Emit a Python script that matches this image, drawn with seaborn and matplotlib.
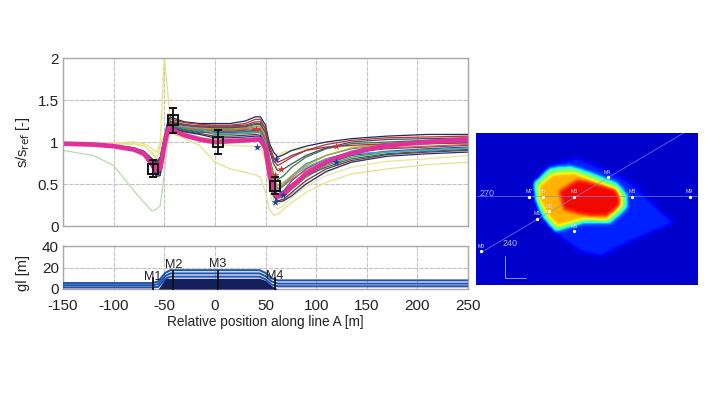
import numpy as np, pandas as pd
import matplotlib
matplotlib.use("Agg")
import matplotlib.pyplot as plt
from matplotlib.path import Path
import seaborn as sns

sns.set_style("white")
plt.rcParams['font.family'] = ['Liberation Sans', 'DejaVu Sans']
plt.rcParams['axes.unicode_minus'] = False

X = [-150,-120,-100,-80,-70,-62,-58,-54,-50,-47,-44,-40,-30,-15,0,15,30,40,45,50,54,58,62,68,76,90,110,135,170,210,250]

green_pale = [.90,.84,.72,.42,.28,.18,.20,.24,.62,.95,1.12,1.13,1.10,1.06,1.02,1.01,1.01,1.02,1.02,.90,.55,.32,.26,.30,.38,.50,.64,.76,.85,.90,.93]
yellow_spike = [.98,.98,.98,.98,.96,.86,.80,.95,2.0,1.65,1.25,1.12,1.08,1.05,1.04,1.03,1.03,1.02,1.0,.88,.55,.42,.85,.88,.90,.92,.93,.95,.96,.98,1.0]
yellow_low = [.98,.98,.99,1.0,.98,.92,.88,.98,1.08,1.10,1.10,1.09,1.04,.96,.76,.68,.64,.61,.58,.40,.19,.13,.14,.20,.28,.40,.52,.62,.68,.73,.76]
yellow_mid = [.98,.97,.97,.97,.95,.88,.82,.88,1.05,1.12,1.15,1.14,1.10,1.02,.97,.96,.95,.95,.94,.78,.42,.24,.20,.25,.34,.47,.60,.70,.77,.80,.84]
s01 = [.98,.97,.96,.93,.89,.80,.76,.82,1.05,1.22,1.30,1.28,1.24,1.22,1.22,1.22,1.25,1.30,1.30,1.20,.98,.88,.82,.85,.90,.95,1.00,1.04,1.07,1.09,1.09]
s02 = [.98,.97,.95,.92,.87,.77,.72,.78,1.02,1.20,1.28,1.26,1.23,1.21,1.20,1.20,1.22,1.27,1.27,1.15,.92,.78,.72,.76,.82,.90,.97,1.02,1.05,1.06,1.07]
s03 = [.98,.97,.95,.92,.86,.75,.70,.74,.98,1.18,1.25,1.24,1.21,1.19,1.18,1.18,1.19,1.22,1.22,1.10,.82,.62,.55,.60,.70,.82,.92,.98,1.00,1.02,1.03]
s04 = [.98,.97,.95,.91,.85,.73,.66,.70,.96,1.16,1.23,1.22,1.19,1.16,1.15,1.15,1.16,1.18,1.18,1.05,.75,.50,.42,.48,.60,.74,.84,.92,.96,.98,.99]
s05 = [.98,.97,.95,.91,.85,.72,.63,.66,.94,1.14,1.21,1.20,1.17,1.14,1.13,1.13,1.14,1.15,1.15,1.02,.72,.46,.36,.42,.54,.68,.80,.88,.92,.94,.96]
s06 = [.98,.97,.95,.91,.84,.70,.60,.62,.92,1.12,1.19,1.18,1.15,1.12,1.11,1.11,1.12,1.13,1.12,1.00,.68,.42,.34,.38,.48,.62,.74,.84,.89,.92,.94]
s07 = [.98,.97,.95,.92,.86,.76,.70,.76,1.00,1.16,1.22,1.21,1.19,1.17,1.16,1.16,1.17,1.19,1.19,1.06,.80,.58,.48,.52,.60,.72,.84,.93,.98,1.01,1.02]
s08 = [.98,.97,.95,.91,.85,.74,.68,.72,.96,1.14,1.20,1.19,1.16,1.13,1.09,1.09,1.10,1.11,1.11,.98,.70,.44,.33,.36,.44,.58,.72,.82,.88,.91,.92]
s09 = [.98,.97,.95,.91,.84,.71,.62,.64,.92,1.11,1.17,1.16,1.13,1.10,1.07,1.07,1.08,1.09,1.08,.96,.66,.38,.30,.32,.40,.54,.68,.78,.85,.88,.90]
s10 = [.98,.97,.96,.93,.88,.79,.75,.80,1.02,1.18,1.24,1.23,1.20,1.18,1.17,1.17,1.18,1.21,1.21,1.12,.90,.74,.66,.68,.74,.84,.93,1.00,1.03,1.04,1.05]
s11 = [.98,.97,.95,.92,.86,.74,.67,.71,.97,1.15,1.22,1.20,1.17,1.15,1.14,1.14,1.15,1.16,1.16,1.04,.78,.54,.45,.48,.56,.66,.78,.87,.93,.95,.97]
s12 = [.98,.97,.95,.91,.85,.72,.64,.66,.93,1.12,1.18,1.17,1.14,1.11,1.12,1.12,1.12,1.14,1.13,1.00,.70,.44,.38,.42,.50,.60,.70,.80,.86,.89,.91]
s13 = [.98,.97,.95,.91,.84,.70,.59,.60,.90,1.10,1.16,1.15,1.12,1.09,1.05,1.05,1.06,1.07,1.07,.94,.64,.36,.29,.30,.36,.50,.65,.76,.83,.86,.88]
s14 = [.98,.97,.96,.92,.87,.78,.73,.79,1.00,1.17,1.23,1.22,1.20,1.19,1.19,1.19,1.20,1.24,1.24,1.16,.95,.82,.76,.79,.84,.90,.94,.96,.98,.98,.99]
s15 = [.98,.97,.95,.92,.86,.75,.69,.73,.97,1.15,1.21,1.20,1.18,1.16,1.10,1.10,1.11,1.12,1.12,1.00,.74,.52,.44,.50,.58,.70,.80,.86,.88,.90,.93]
pink = [.98,.97,.95,.91,.86,.74,.66,.68,.95,1.12,1.16,1.13,1.08,1.03,1.00,1.01,1.02,1.03,1.03,.92,.62,.40,.35,.38,.47,.62,.76,.87,.96,1.00,1.03]

series = {"gp": green_pale, "ys": yellow_spike, "yl": yellow_low, "ym": yellow_mid,
          "s01": s01, "s02": s02, "s03": s03, "s04": s04, "s05": s05, "s06": s06, "s07": s07,
          "s08": s08, "s09": s09, "s10": s10, "s11": s11, "s12": s12, "s13": s13, "s14": s14, "s15": s15}
colors = {"gp": "#b9d9b0", "ys": "#e6e27a", "yl": "#e5e28c", "ym": "#e9e59a",
          "s01": "#1d2a5c", "s02": "#b5322f", "s03": "#2a7f3f", "s04": "#22a0a0", "s05": "#7a3b8f",
          "s06": "#2b4ea8", "s07": "#c8a020", "s08": "#3aa63a", "s09": "#8a2a2a", "s10": "#4a4a70",
          "s11": "#d06030", "s12": "#20706a", "s13": "#28307a", "s14": "#a03050", "s15": "#5aa0c8"}

meas_x = [-61, -41, 3, 59]
meas_y = [0.68, 1.26, 1.0, 0.48]
meas_err = [0.10, 0.15, 0.14, 0.10]
blue_x = [42, 60, 120, 67, 59]
blue_y = [0.94, 0.80, 0.76, 0.37, 0.29]
red_x = [41, 59, 65, 120]
red_y = [1.16, 0.61, 0.68, 0.95]

gl_x = [-150,-62,-56,-49,-44,0,44,50,56,62,250]
ground = [0,0,0,10,10,10,10,8,3,0,0]
band_low = [1.5,1.5,2,9.5,11.5,11.5,11.5,9,4,2.5,2.5]
line_mid = [3.5,3.5,4.5,12,14.5,14.5,14.5,12,7,5,5]
band_high = [5.5,5.5,7,15,17.5,17.5,17.5,15,10,8,8]
mark_x = [-61, -41, 3, 59]
mark_top = [11, 18, 18, 11]
label_y = [11, 22, 23, 12]
mark_names = ["M1", "M2", "M3", "M4"]

poly_plume = [(260,330),(330,380),(390,395),(480,350),(610,295),(540,230),(490,180),(440,150),(320,100),(230,125),(190,180),(200,260)]
poly_green = [(190,175),(240,130),(300,125),(350,140),(440,175),(470,210),(470,250),(420,295),(340,295),(255,320),(220,280),(195,225)]
poly_yellow = [(207,182),(247,148),(310,143),(350,158),(438,193),(456,222),(446,252),(408,286),(340,282),(262,305),(232,273),(207,225)]
poly_red = [(265,200),(320,165),(350,170),(440,195),(452,240),(410,275),(340,272),(280,255)]
poly_levels = [0.16, 0.50, 0.72, 0.90]
map_pts_x = [33,201,237,311,412,311,217,177,485,658]
map_pts_y = [380,282,260,216,157,319,216,216,216,216]
map_names = ["M0","M1","M2","M3","M4","M5","M6","M7","M8","M9"]

W, H = 705, 396
fig = plt.figure(figsize=(W/100, H/100), dpi=100, facecolor="white")
def box(l, t, r, b):
    return [l/W, 1-b/H, (r-l)/W, (b-t)/H]

GRID = "#c4c4c4"
def style(ax):
    ax.grid(True, color=GRID, lw=0.8, ls=(0,(4,1)))
    for s in ax.spines.values():
        s.set_color("#a8a8a8"); s.set_linewidth(1.0)
    ax.tick_params(length=0, labelsize=11, pad=3, colors="#222222")

# upper
ax = fig.add_axes(box(63, 58, 468, 226))
df = pd.DataFrame([{"x": x, "y": v, "s": k} for k, vals in series.items() for x, v in zip(X, vals)])
sns.lineplot(data=df, x="x", y="y", hue="s", palette=colors, estimator=None, sort=False,
             legend=False, lw=0.9, ax=ax)
sns.lineplot(x=X, y=pink, color="#e0309a", lw=3.4, estimator=None, sort=False, ax=ax)
sns.scatterplot(x=blue_x, y=blue_y, marker="*", s=34, color="#1f3f9f", linewidth=0, ax=ax, zorder=5)
sns.scatterplot(x=red_x, y=red_y, marker="*", s=34, color="#e03030", linewidth=0, ax=ax, zorder=5)
ax.errorbar(meas_x, meas_y, yerr=meas_err, fmt="s", mfc="none", mec="#111111", mew=1.4, ms=6.5,
            ecolor="#111111", elinewidth=1.3, capsize=3, capthick=1.2, zorder=6)
ax.set_xlim(-150, 250); ax.set_ylim(0, 2)
ax.set_xticks(range(-150, 251, 50)); ax.set_xticklabels([])
ax.set_yticks([0, .5, 1, 1.5, 2]); ax.set_yticklabels(["0", "0.5", "1", "1.5", "2"])
ax.set_xlabel(""); ax.set_ylabel("")
style(ax)
fig.text(23/W, 1-142/H, r"s/s$_{\mathrm{ref}}$ [-]", rotation=90, ha="center", va="center", fontsize=10.5, color="#222222")

# lower
ax2 = fig.add_axes(box(63, 246, 468, 289))
ax2.fill_between(gl_x, 0, ground, color="#141f5e", lw=0, zorder=3)
for level in (band_low, line_mid, band_high):
    sns.lineplot(x=gl_x, y=level, color="#2355b0", lw=1.5, estimator=None, sort=False, ax=ax2, zorder=4)
ax2.vlines(mark_x, -1, mark_top, color="#111111", lw=1.3, zorder=5, clip_on=False)
for x, y, n in zip(mark_x, label_y, mark_names):
    ax2.text(x, y, n, ha="center", va="center", fontsize=9, color="#222222", zorder=6)
ax2.set_xlim(-150, 250); ax2.set_ylim(0, 40)
ax2.set_xticks(range(-150, 251, 50)); ax2.set_yticks([0, 20, 40])
ax2.set_ylabel(""); ax2.set_xlabel("")
style(ax2)
ax2.tick_params(axis="x", pad=7)
fig.text(23/W, 1-273/H, "gl [m]", rotation=90, ha="center", va="center", fontsize=10.5, color="#222222")
fig.text(265/W, 1-322/H, "Relative position along line A [m]", ha="center", va="center", fontsize=9.8, color="#222222")

# map
ax3 = fig.add_axes(box(476, 133, 698, 285))
gw, gh = 222, 152
yy, xx = np.mgrid[0:gh, 0:gw]
zx = xx*3 + 17 + 1.5; zy = yy*3 + 25 + 1.5
pts = np.column_stack([zx.ravel(), zy.ravel()])
field = np.full((gh, gw), 0.07)
for poly, lev in zip([poly_plume, poly_green, poly_yellow, poly_red], poly_levels):
    mask = Path(poly + [poly[0]]).contains_points(pts).reshape(gh, gw)
    field = np.maximum(field, np.where(mask, lev, 0.0))
def blur(a, n):
    for _ in range(n):
        a = (a + np.roll(a,1,0) + np.roll(a,-1,0) + np.roll(a,1,1) + np.roll(a,-1,1))/5
    return a
field = blur(field, 7)
sns.heatmap(field, cmap="jet", vmin=0, vmax=1, cbar=False, xticklabels=False, yticklabels=False, ax=ax3)
def Z(x, y):
    return (x-17)/3, (y-25)/3
lc = "#8d86e6"
ax3.plot(*zip(Z(20,215), Z(685,215)), color=lc, lw=0.6, alpha=0.75)
ax3.plot(*zip(Z(30,385), Z(640,25)), color=lc, lw=0.6, alpha=0.75)
ax3.plot(*zip(Z(105,395), Z(105,460), Z(167,460)), color="#8f98e6", lw=0.7)
for x, y, n in zip(map_pts_x, map_pts_y, map_names):
    px, py = Z(x, y)
    ax3.plot(px, py, "o", color="white", ms=2.4, mew=0)
    ax3.text(px, py-2.5, n, color="#d8d8f8", fontsize=3.8, ha="center", va="bottom")
ax3.text(*Z(50,207), "270", color="#b4b4ea", fontsize=6.5, ha="center", va="center")
ax3.text(*Z(118,355), "240", color="#b4b4ea", fontsize=6.5, ha="center", va="center")
ax3.set_xlim(0, gw); ax3.set_ylim(gh, 0)
ax3.set_xlabel(""); ax3.set_ylabel("")

fig.savefig("out.png", dpi=100, facecolor="white")
